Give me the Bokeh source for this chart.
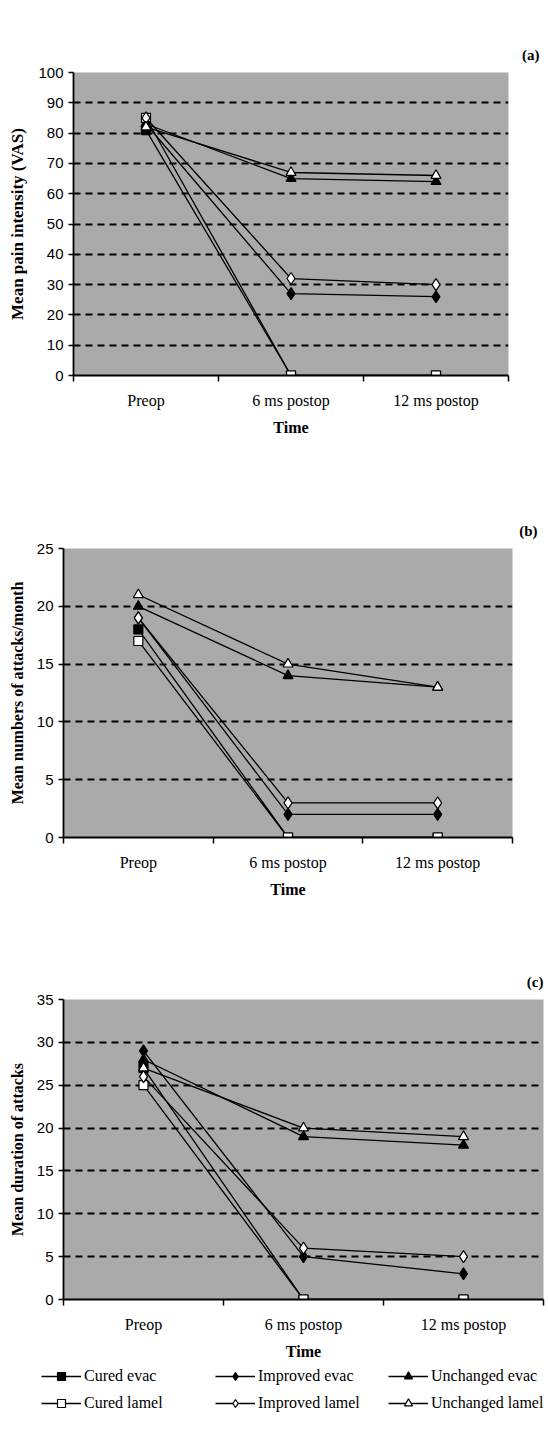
from bokeh.plotting import figure
from bokeh.models import Range1d, FixedTicker, Legend, LegendItem
from bokeh.layouts import column
from bokeh.embed import file_html
from bokeh.resources import INLINE

# Categories on the x axis (placed at the middle of each band)
time_labels = ["Preop", "6 ms postop", "12 ms postop"]
x_pos = [0.5, 1.5, 2.5]
band_edges = [0, 1, 2, 3]

series_names = ["Cured evac", "Improved evac", "Unchanged evac",
                "Cured lamel", "Improved lamel", "Unchanged lamel"]

# (a) Mean pain intensity (VAS)
pain_cured_evac = [81, 0, 0]
pain_improved_evac = [83, 27, 26]
pain_unchanged_evac = [83, 65, 64]
pain_cured_lamel = [85, 0, 0]
pain_improved_lamel = [85, 32, 30]
pain_unchanged_lamel = [82, 67, 66]
pain_ticks = [0, 10, 20, 30, 40, 50, 60, 70, 80, 90, 100]

# (b) Mean numbers of attacks/month
attacks_cured_evac = [18, 0, 0]
attacks_improved_evac = [19, 2, 2]
attacks_unchanged_evac = [20, 14, 13]
attacks_cured_lamel = [17, 0, 0]
attacks_improved_lamel = [19, 3, 3]
attacks_unchanged_lamel = [21, 15, 13]
attacks_ticks = [0, 5, 10, 15, 20, 25]

# (c) Mean duration of attacks
duration_cured_evac = [27, 0, 0]
duration_improved_evac = [29, 5, 3]
duration_unchanged_evac = [28, 19, 18]
duration_cured_lamel = [25, 0, 0]
duration_improved_lamel = [26, 6, 5]
duration_unchanged_lamel = [27, 20, 19]
duration_ticks = [0, 5, 10, 15, 20, 25, 30, 35]

# marker, fill, size for each series (same order as series_names)
styles = [
    ("square", "black", 9),
    ("diamond", "black", 12),
    ("triangle", "black", 10),
    ("square", "white", 9),
    ("diamond", "white", 12),
    ("triangle", "white", 10),
]

SERIF = "Liberation Serif"
SANS = "Liberation Sans"


def draw_series(p, series, visible=True):
    rends = []
    for ys, (marker, fill, size) in zip(series, styles):
        ln = p.line(x_pos, ys, line_color="black", line_width=1.3, visible=visible)
        sc = p.scatter(x_pos, ys, marker=marker, size=size, fill_color=fill,
                       line_color="black", line_width=1.2, visible=visible)
        rends.append([ln, sc])
    return rends


def make_panel(tag, tag_offset, series, ticks, ylabel, ylabel_size,
               left, top, frame_w, frame_h, right, bottom):
    p = figure(
        frame_width=frame_w, frame_height=frame_h,
        min_border_left=left, min_border_top=top,
        min_border_right=right, min_border_bottom=bottom,
        x_range=Range1d(0, 3), y_range=Range1d(ticks[0], ticks[-1]),
        toolbar_location=None, tools="", output_backend="svg",
        frame_align=False,
    )
    p.background_fill_color = "#aaaaaa"
    p.border_fill_color = "white"
    p.outline_line_color = None

    # panel tag (a)/(b)/(c) at the top right
    p.title.text = tag
    p.title.align = "right"
    p.title.offset = tag_offset
    p.title.standoff = 19
    p.title.text_font = SERIF
    p.title.text_font_size = "15px"
    p.title.text_font_style = "bold"
    p.title.text_color = "black"

    # x axis: labels in the middle, ticks on band edges
    p.xaxis.ticker = FixedTicker(ticks=x_pos, minor_ticks=band_edges)
    p.xaxis.major_label_overrides = dict(zip(x_pos, time_labels))
    p.xaxis.major_tick_line_color = None
    p.xaxis.major_tick_out = 0
    p.xaxis.minor_tick_out = 6
    p.xaxis.minor_tick_in = 0
    p.xaxis.minor_tick_line_color = "black"
    p.xaxis.minor_tick_line_width = 1.5
    p.xaxis.major_label_standoff = 10
    p.xaxis.major_label_text_font = SERIF
    p.xaxis.major_label_text_font_size = "16px"
    p.xaxis.axis_label = "Time"
    p.xaxis.axis_label_text_font = SERIF
    p.xaxis.axis_label_text_font_size = "16px"
    p.xaxis.axis_label_text_font_style = "bold"
    p.xaxis.axis_label_standoff = 7

    p.yaxis.ticker = FixedTicker(ticks=ticks)
    p.yaxis.minor_tick_line_color = None
    p.yaxis.major_tick_out = 5
    p.yaxis.major_tick_in = 0
    p.yaxis.major_tick_line_width = 1.5
    p.yaxis.major_label_text_font = SANS
    p.yaxis.major_label_text_font_size = "15px"
    p.yaxis.major_label_standoff = 5
    p.yaxis.axis_label = ylabel
    p.yaxis.axis_label_text_font = SERIF
    p.yaxis.axis_label_text_font_size = ylabel_size
    p.yaxis.axis_label_text_font_style = "bold"
    p.yaxis.axis_label_standoff = 8

    for ax in (p.xaxis, p.yaxis):
        ax.axis_line_color = "black"
        ax.axis_line_width = 1.8
        ax.major_label_text_color = "black"
        ax.axis_label_text_color = "black"

    p.xgrid.grid_line_color = None
    p.ygrid.ticker = FixedTicker(ticks=ticks[1:-1])
    p.ygrid.grid_line_color = "black"
    p.ygrid.grid_line_width = 1.8
    p.ygrid.grid_line_dash = "7 5"

    draw_series(p, series)
    return p


pa = make_panel(
    "(a)", -31,
    [pain_cured_evac, pain_improved_evac, pain_unchanged_evac,
     pain_cured_lamel, pain_improved_lamel, pain_unchanged_lamel],
    pain_ticks, "Mean pain intensity (VAS)", "17px",
    73, 72, 435, 303, 40, 95)

pb = make_panel(
    "(b)", -25,
    [attacks_cured_evac, attacks_improved_evac, attacks_unchanged_evac,
     attacks_cured_lamel, attacks_improved_lamel, attacks_unchanged_lamel],
    attacks_ticks, "Mean numbers of attacks/month", "16px",
    63, 78, 449, 289, 36, 103)

duration_series = [duration_cured_evac, duration_improved_evac, duration_unchanged_evac,
                   duration_cured_lamel, duration_improved_lamel, duration_unchanged_lamel]
pc = make_panel(
    "(c)", 0, duration_series,
    duration_ticks, "Mean duration of attacks", "16px",
    63, 59, 480, 300, 5, 64)

# Legend strip under panel (c): evac series on the first row, lamel on the second
pl = figure(width=548, height=71, x_range=Range1d(0, 3), y_range=Range1d(0, 35),
            toolbar_location=None, tools="", output_backend="svg",
            x_axis_location=None, y_axis_location=None, frame_align=False,
            min_border=0, min_border_left=0, min_border_right=0,
            min_border_top=0, min_border_bottom=0)
pl.grid.visible = False
pl.outline_line_color = None
pl.background_fill_color = "white"
legend_rends = draw_series(pl, duration_series, visible=False)

for col, x in enumerate([41, 215, 388]):
    items = [LegendItem(label=series_names[col], renderers=legend_rends[col]),
             LegendItem(label=series_names[col + 3], renderers=legend_rends[col + 3])]
    pl.add_layout(Legend(items=items, location=(x, 21), orientation="vertical",
                         glyph_width=40, glyph_height=20, label_standoff=3,
                         spacing=7, padding=0, margin=0,
                         label_text_font=SERIF, label_text_font_size="16px",
                         label_text_color="black",
                         border_line_color=None, background_fill_alpha=0))

layout = column(pa, pb, pc, pl, spacing=0)

open("out.html", "w").write(file_html(layout, INLINE))
